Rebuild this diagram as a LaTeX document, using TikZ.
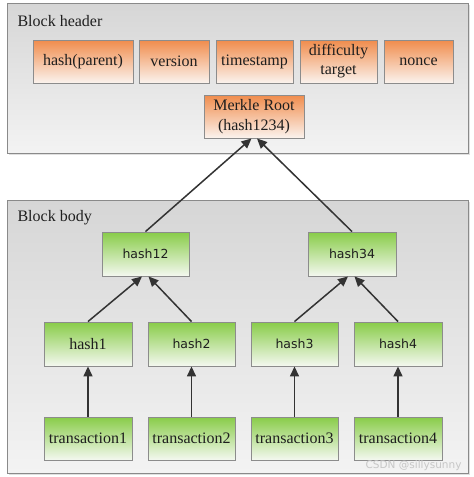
\documentclass[tikz,border=0pt]{standalone}
\usepackage{fontspec}
\setmainfont{Liberation Serif}
\newfontfamily\sansf{DejaVu Sans}
\usetikzlibrary{arrows.meta}
\definecolor{orng}{HTML}{F08C4C}
\definecolor{orngb}{HTML}{FBF3EE}
\definecolor{grn}{HTML}{88CC48}
\definecolor{grnb}{HTML}{F4F8F0}
\definecolor{boxln}{HTML}{8C8C8C}
\definecolor{contln}{HTML}{8A8A8A}
\definecolor{conttop}{HTML}{D6D6D6}
\definecolor{contbot}{HTML}{F3F3F3}
\definecolor{arr}{HTML}{333333}
\definecolor{txt}{HTML}{1E1E1E}
\tikzset{
  obox/.style={draw=boxln, line width=0.9pt, top color=orng, bottom color=orngb,
    minimum height=43pt, inner sep=1pt, align=center, text=txt,
    font=\fontsize{16}{17}\selectfont},
  gbox/.style={draw=boxln, line width=0.9pt, top color=grn, bottom color=grnb,
    minimum height=44pt, minimum width=88pt, inner sep=1pt, align=center, text=txt,
    font=\fontsize{16}{17}\selectfont},
  sbox/.style={gbox, font=\sansf\fontsize{12.5}{14}\selectfont},
  cont/.style={draw=contln, line width=0.9pt, top color=conttop, bottom color=contbot},
  shad/.style={fill=black!12},
  conn/.style={draw=arr, line width=1.5pt, -{Triangle[length=10pt,width=9pt]}},
  ttl/.style={anchor=west, text=txt, font=\fontsize{16}{17}\selectfont},
}
\begin{document}
\begin{tikzpicture}[x=1pt,y=-1pt]
\useasboundingbox (0,0) rectangle (474,477);
\fill[white] (0,0) rectangle (474,477);
% containers
\fill[shad] (9,5) rectangle (470,155);
\path[cont] (7,3) rectangle (468,153);
\fill[shad] (9,202) rectangle (470,475);
\path[cont] (7,200) rectangle (468,473);
\node[ttl] (th) at (14,21) {Block header};
\node[ttl] (tb) at (14,218) {Block body};
% header fields
\node[obox, minimum width=100pt] (hp) at (83,61.5) {hash(parent)};
\node[obox, minimum width=70pt] (ver) at (174,61.5) {version};
\node[obox, minimum width=77pt] (ts) at (254.5,61.5) {timestamp};
\node[obox, minimum width=77pt, font=\fontsize{16}{19}\selectfont] (dt) at (338.5,61.5) {difficulty\\target};
\node[obox, minimum width=69pt] (nc) at (418.5,61.5) {nonce};
\node[obox, minimum width=100pt, font=\fontsize{16}{20}\selectfont] (mr) at (254,116.5) {Merkle Root\\(hash1234)};
% body
\node[sbox, minimum width=87pt] (h12) at (145.5,254) {hash12};
\node[sbox] (h34) at (352,254) {hash34};
\node[gbox] (h1) at (88,344) {hash1};
\node[sbox, minimum width=87pt] (h2) at (191.5,344) {hash2};
\node[sbox, minimum width=87pt] (h3) at (294.5,344) {hash3};
\node[sbox] (h4) at (398,344) {hash4};
\node[gbox, minimum height=43pt] (t1) at (88,438.5) {transaction1};
\node[gbox, minimum height=43pt, minimum width=87pt] (t2) at (191.5,438.5) {transaction2};
\node[gbox, minimum height=43pt, minimum width=87pt] (t3) at (294.5,438.5) {transaction3};
\node[gbox, minimum height=43pt] (t4) at (398,438.5) {transaction4};
% connectors
\draw[conn] (h12.north) -- ([xshift=-2.5pt]mr.south);
\draw[conn] (h34.north) -- ([xshift=3pt]mr.south);
\draw[conn] (h1.north) -- ([xshift=-3.5pt]h12.south);
\draw[conn] (h2.north) -- ([xshift=3pt]h12.south);
\draw[conn] (h3.north) -- ([xshift=-4pt]h34.south);
\draw[conn] (h4.north) -- ([xshift=2.5pt]h34.south);
\draw[conn] (t1.north) -- (h1.south);
\draw[conn] (t2.north) -- (h2.south);
\draw[conn] (t3.north) -- (h3.south);
\draw[conn] (t4.north) -- (h4.south);
\node[text=black!22, font=\sansf\fontsize{10.5}{12}\selectfont, anchor=east] (wm) at (465,466) {CSDN @sillysunny};
\end{tikzpicture}
\end{document}
